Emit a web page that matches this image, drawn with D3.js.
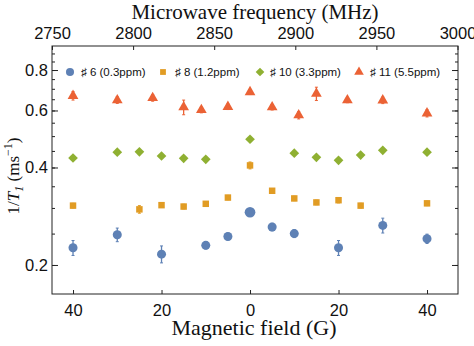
<!DOCTYPE html>
<html>
<head>
<meta charset="utf-8">
<script src="https://d3js.org/d3.v7.min.js"></script>
<style>
  body { margin: 0; background: #fff; }
  svg text { fill: #111; }
</style>
</head>
<body>
<div id="chart"></div>
<script>
// magnetic field (G), signed, and 1/T1 values (ms^-1) with error bars
const s6Field = [-40, -30, -20, -10, -5, 0, 5, 10, 20, 30, 40]
const s6Rate = [0.226, 0.248, 0.216, 0.230, 0.245, 0.291, 0.262, 0.250, 0.226, 0.265, 0.241]
const s6Err = [0.012, 0.012, 0.013, 0.006, 0.006, 0.004, 0.007, 0.007, 0.012, 0.014, 0.008]

const s8Field = [-40, -25, -20, -15, -10, -5, 0, 5, 10, 15, 20, 25, 40]
const s8Rate = [0.305, 0.297, 0.306, 0.303, 0.309, 0.323, 0.406, 0.339, 0.321, 0.312, 0.317, 0.305, 0.310]
const s8Err = [0.005, 0.008, 0.005, 0.005, 0.005, 0.005, 0.010, 0.005, 0.005, 0.005, 0.006, 0.005, 0.005]

const s10Field = [-40, -30, -25, -20, -15, -10, 0, 10, 15, 20, 25, 30, 40]
const s10Rate = [0.428, 0.446, 0.447, 0.434, 0.427, 0.424, 0.489, 0.443, 0.430, 0.421, 0.437, 0.452, 0.446]
const s10Err = [0.006, 0.006, 0.006, 0.006, 0.006, 0.006, 0.006, 0.006, 0.006, 0.006, 0.006, 0.006, 0.006]

const s11Field = [-40, -30, -22, -15, -11, -5, 0, 5, 11, 15, 22, 30, 40]
const s11Rate = [0.666, 0.646, 0.656, 0.614, 0.602, 0.616, 0.684, 0.614, 0.580, 0.676, 0.646, 0.645, 0.588]
const s11Err = [0.020, 0.015, 0.015, 0.032, 0.012, 0.012, 0.012, 0.012, 0.015, 0.032, 0.012, 0.015, 0.015]

const seriesNames = ["\u266F 6 (0.3ppm)", "\u266F 8 (1.2ppm)", "\u266F 10 (3.3ppm)", "\u266F 11 (5.5ppm)"]
const seriesColors = ["#5E81B5", "#E19C24", "#8FB032", "#EB6235"]

const freqTicks = [2750, 2800, 2850, 2900, 2950, 3000]
const fieldTicks = [-40, -20, 0, 20, 40]
const rateTicks = [0.2, 0.4, 0.6, 0.8]
const rateMinor = [0.2, 0.25, 0.3, 0.35, 0.4, 0.45, 0.5, 0.55, 0.6, 0.65, 0.7, 0.75, 0.8, 0.85, 0.9]

const w = 474, h = 346
const mLeft = 52, mRight = 458, mTop = 46, mBottom = 294

const svg = d3.select("#chart").append("svg").attr("width", w).attr("height", h)

const xField = d3.scaleLinear().domain([-44.75, 47]).range([mLeft, mRight])
const xFreq = d3.scaleLinear().domain([2750, 3000]).range([mLeft, 457.5])
const y = d3.scaleLog().domain([0.1627, 0.949]).range([mBottom, mTop])

const tickFont = "Liberation Sans, Arial, sans-serif"
const serif = "Liberation Serif, Times New Roman, serif"

// axes (ticks point inward)
svg.append("g").attr("transform", "translate(0," + mBottom + ")")
  .call(d3.axisTop(xField).tickValues(fieldTicks).tickSize(4).tickFormat(d => Math.abs(d)))
  .call(g => g.select(".domain").remove())
  .call(g => g.selectAll("text").attr("y", 10).attr("dy", "0.71em"))

svg.append("g").attr("transform", "translate(0," + mTop + ")")
  .call(d3.axisBottom(xFreq).tickValues(freqTicks).tickSize(4).tickFormat(d3.format("d")))
  .call(g => g.select(".domain").remove())
  .call(g => g.selectAll("text").attr("y", -7).attr("dy", "0em"))

svg.append("g").attr("transform", "translate(" + mLeft + ",0)")
  .call(d3.axisRight(y).tickValues(rateMinor).tickSize(3).tickFormat(""))
  .call(g => g.select(".domain").remove())
svg.append("g").attr("transform", "translate(" + mLeft + ",0)")
  .call(d3.axisRight(y).tickValues(rateTicks).tickSize(6).tickFormat(d3.format(".1f")))
  .call(g => g.select(".domain").remove())
  .call(g => g.selectAll("text").attr("x", -4).attr("text-anchor", "end"))

svg.append("g").attr("transform", "translate(" + mRight + ",0)")
  .call(d3.axisLeft(y).tickValues(rateMinor).tickSize(3).tickFormat(""))
  .call(g => g.select(".domain").remove())
svg.append("g").attr("transform", "translate(" + mRight + ",0)")
  .call(d3.axisLeft(y).tickValues(rateTicks).tickSize(6).tickFormat(""))
  .call(g => g.select(".domain").remove())

svg.selectAll(".tick line").attr("stroke", "#222")
svg.selectAll(".tick text").style("font-family", tickFont).style("font-size", "16.5px").attr("fill", "#111")

svg.append("rect").attr("x", mLeft).attr("y", mTop).attr("width", mRight - mLeft).attr("height", mBottom - mTop)
  .attr("fill", "none").attr("stroke", "#222").attr("stroke-width", 1)

// axis titles
svg.append("text").attr("x", 255).attr("y", 19).attr("text-anchor", "middle")
  .style("font-family", serif).style("font-size", "21px").text("Microwave frequency (MHz)")
svg.append("text").attr("x", 254).attr("y", 335).attr("text-anchor", "middle")
  .style("font-family", serif).style("font-size", "22px").text("Magnetic field (G)")

const yl = svg.append("text").attr("transform", "translate(19,176) rotate(-90)").attr("text-anchor", "middle")
  .style("font-family", serif).style("font-size", "17px")
yl.append("tspan").text("1/")
yl.append("tspan").style("font-style", "italic").text("T")
yl.append("tspan").style("font-style", "italic").style("font-size", "12px").attr("dy", 4).text("1")
yl.append("tspan").attr("dy", -4).text(" (ms")
yl.append("tspan").style("font-size", "12px").attr("dy", -7).text("\u22121")
yl.append("tspan").attr("dy", 7).text(")")

// markers
const symbols = [d3.symbolCircle, d3.symbolSquare, d3.symbolDiamond2, d3.symbolTriangle]
const symSize = [64, 42, 60, 50]
const all = [
  [s6Field, s6Rate, s6Err],
  [s8Field, s8Rate, s8Err],
  [s10Field, s10Rate, s10Err],
  [s11Field, s11Rate, s11Err]
]

all.forEach(([fs, rs, es], k) => {
  const pts = fs.map((f, i) => ({ f, r: rs[i], e: es[i] }))
  const g = svg.append("g")
  g.selectAll("line.err").data(pts).enter().append("line")
    .attr("x1", d => xField(d.f)).attr("x2", d => xField(d.f))
    .attr("y1", d => y(d.r - d.e)).attr("y2", d => y(d.r + d.e))
    .attr("stroke", seriesColors[k]).attr("stroke-width", 1.3)
  g.selectAll("line.cap").data(pts.flatMap(d => [d.r - d.e, d.r + d.e].map(v => ({ f: d.f, v })))).enter().append("line")
    .attr("x1", d => xField(d.f) - 1.5).attr("x2", d => xField(d.f) + 1.5)
    .attr("y1", d => y(d.v)).attr("y2", d => y(d.v))
    .attr("stroke", seriesColors[k]).attr("stroke-width", 1)
  g.selectAll("path").data(pts).enter().append("path")
    .attr("transform", d => "translate(" + xField(d.f) + "," + y(d.r) + ")")
    .attr("d", d3.symbol().type(symbols[k]).size(d => (k === 0 && d.f === 0) ? 90 : symSize[k]))
    .attr("fill", seriesColors[k])
})

// legend
const legX = [70, 163, 260, 359]
const legTextX = [81, 175, 270, 370]
seriesNames.forEach((n, k) => {
  svg.append("path").attr("transform", "translate(" + legX[k] + ",72)")
    .attr("d", d3.symbol().type(symbols[k]).size(symSize[k] * 0.8)).attr("fill", seriesColors[k])
  svg.append("text").attr("x", legTextX[k]).attr("y", 76)
    .style("font-family", tickFont).style("font-size", "11.5px").text(n)
})
</script>
</body>
</html>
